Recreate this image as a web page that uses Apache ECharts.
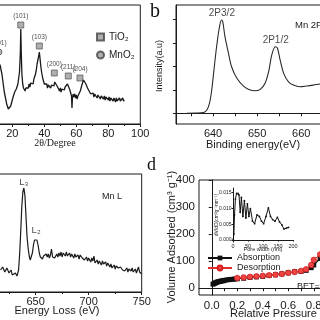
<!DOCTYPE html>
<html><head><meta charset="utf-8">
<script src="https://cdn.jsdelivr.net/npm/echarts@6/dist/echarts.min.js"></script>
<style>html,body{margin:0;padding:0;background:#fff}#c{width:320px;height:320px}</style>
</head><body><div id="c"></div>
<script>
// ---- panel a: XRD ----
const xrdData = [[10,66],[10.5,64],[11,68],[11.5,62],[12,61],[12.5,58],[13,54],[13.5,50],[14,44],[14.5,38],[15,32],[15.5,28],[16,24],[16.5,20],[17,18],[17.5,15],[18,17],[18.5,14],[19,18],[19.5,21],[20,24],[20.5,27],[21,29],[21.5,32],[22,30],[22.5,35],[23,36],[23.5,40],[24,42],[24.5,52],[25,70],[25.3,95],[25.6,72],[26,50],[26.5,40],[27,36],[27.5,38],[28,33],[28.5,36],[29,34],[29.5,38],[30,36],[30.5,40],[31,37],[31.5,41],[32,39],[32.5,42],[33,40],[33.5,45],[34,46],[34.5,50],[35,54],[35.5,60],[36,64],[36.5,68],[36.9,72],[37.3,66],[37.8,58],[38.3,52],[39,46],[39.5,43],[40,40],[40.5,42],[41,38],[41.5,40],[42,36],[42.5,39],[43,37],[43.5,40],[44,36],[44.5,39],[45,37],[45.5,41],[46,38],[46.5,42],[47,40],[47.5,44],[48,38],[48.5,36],[49,37],[49.5,33],[50,36],[50.5,32],[51,35],[51.5,33],[52,36],[52.5,34],[53,37],[53.5,35],[54,39],[54.5,40],[55,42],[55.5,38],[56,34],[56.5,31],[57,28],[57.3,16],[57.6,26],[58,30],[58.5,27],[59,30],[59.5,26],[60,29],[60.5,25],[61,28],[61.5,26],[62,30],[62.5,33],[63,36],[63.5,39],[64,41],[64.5,44],[65,42],[65.5,45],[66,40],[66.5,38],[67,36],[67.5,35],[68,33],[68.5,34],[69,30],[69.5,32],[70,29],[70.5,31],[71,27],[71.5,30],[72,28],[72.5,31],[73,26],[73.5,29],[74,27],[74.5,30],[75,25],[75.5,28],[76,26],[76.5,29],[77,25],[77.5,28],[78,24],[78.5,27],[79,25],[79.5,28],[80,24],[80.5,27],[81,23],[81.5,26],[82,24],[82.5,27],[83,23],[83.5,26],[84,24],[84.5,22],[85,26],[85.5,23],[86,25],[86.5,22],[87,26],[87.5,23],[88,25],[88.5,22],[89,26],[89.5,23],[90,24]];
const tio2Peaks = [[25.3,99,'(101)'],[36.9,78,'(103)'],[46.25,51,'(200)'],[55,48,'(211)'],[62.3,46,'(204)']];
const mno2Peaks = [[11.7,72,'(001)']];
const xrdTicks = [20,40,60,80,100];

// ---- panel b: XPS Mn 2p ----
const xpsData = [[634,0.0],[636,0.01],[637.8,0.03],[638.6,0.14],[639.2,0.43],[639.7,0.99],[640.2,1.84],[640.8,2.83],[641.4,3.62],[641.9,3.97],[642.2,3.9],[642.7,3.26],[643.5,2.55],[644.2,1.98],[645.4,1.49],[646.9,1.16],[648.4,0.99],[649.5,0.96],[650.7,1.02],[651.8,1.28],[652.6,1.77],[653.3,2.48],[654.1,2.83],[654.6,2.77],[655.2,2.27],[656,1.7],[657.1,1.34],[658.2,1.2],[659.7,1.13],[661.2,1.16],[662.7,1.2],[664.2,1.25],[666,1.3]];
const xpsPeakLabels = [[642,4.27,'2P3/2'],[654.2,3.12,'2P1/2']];
const xpsTicks = [640,650,660];
const xpsMinorTicks = [635,640,645,650,655,660,665];

// ---- panel c: EELS Mn L ----
const eelsData = [[617,22],[619,25],[621,20],[623,24],[625,19],[627,22],[628,17],[629.5,15],[631,19],[632.5,16],[634,22],[635,38],[636,60],[637,85],[638,100],[639,104],[640,96],[641,75],[642,55],[643,44],[644,36],[645,32],[646,34],[647,39],[648,47],[649,52],[650.3,54],[651.3,52],[652.5,46],[653.5,39],[654.5,35],[655.5,37],[656.5,33],[657.5,36],[658.5,34],[660,38],[661,35],[662,38],[663,34],[664,37],[665,43],[666,35],[667,37],[668,34],[670,38],[671,35],[672,39],[673,36],[674,40],[675,35],[676,39],[677,41],[678,36],[679,40],[680,36],[682,39],[683,35],[684,38],[686,34],[687,38],[688,35],[690,37],[691,33],[692,37],[694,34],[695,36],[696,32],[698,35],[699,31],[700,34],[702,30],[703,34],[704,31],[705,36],[706,29],[708,32],[709,28],[710,31],[712,27],[713,31],[714,28],[716,30],[717,26],[718,29],[720,25],[721,28],[722,24],[724,27],[725,23],[726,26],[728,24],[729,22],[730,25],[732,22],[733,24],[734,21],[736,24],[737,20],[738,23],[740,21],[741,24],[742,20],[744,23],[745,19],[746,22],[747,25],[748,20],[749,22],[750,18]];
const eelsPeakLabels = [[639,110,'L₃'],[650.5,62,'L₂']];
const eelsTicks = [650,700,750];

// ---- panel d: N2 isotherm ----
const absorptionP = [0.01,0.02,0.03,0.04,0.05,0.06,0.07,0.08,0.09,0.10,0.12,0.14,0.16,0.18,0.20,0.25,0.30,0.35,0.40,0.45,0.50,0.55,0.60,0.65,0.70,0.74,0.78,0.80,0.85,0.90];
const absorptionV = [15,18,20,22,24,25,26,27,28,29,31,32,33,34,35,37,40,42,44,47,50,53,57,61,62,66,76,86,110,150];
const desorptionP = [0.20,0.25,0.30,0.35,0.40,0.45,0.50,0.55,0.60,0.65,0.70,0.74,0.78,0.80,0.85,0.90];
const desorptionV = [38,40,42,44,46,48,50,53,57,60,64,70,86,105,125,160];
const isoXTicks = [0,0.2,0.4,0.6,0.8,1.0];
const isoYTicks = [0,100,200,300,400];
// inset: pore size distribution
const poreWidth = [1,3,5,8,12,17,20,24,28,33,38,43,48,53,58,65,72,80,88,95,102,110,118,125,132,140,148,155,163,170,178,185];
const poreDV = [0.0003,0.002,0.008,0.013,0.0148,0.0148,0.0143,0.0088,0.0135,0.0075,0.0125,0.0070,0.0115,0.0075,0.0100,0.0060,0.0052,0.0080,0.0075,0.0060,0.0052,0.0075,0.0102,0.0075,0.0065,0.0060,0.0072,0.0058,0.0048,0.0035,0.0038,0.0040];
const poreYTicks = [0,0.005,0.010,0.015];

const SANS = "'Liberation Sans', Arial, sans-serif";
const SERIF = "'Liberation Serif', 'Times New Roman', serif";
const INK = '#1a1a1a';

const zip = (a,b) => a.map((v,i)=>[v,b[i]]);

const chart = echarts.init(document.getElementById('c'), null, {renderer:'canvas', width:320, height:320});

const lbl = (o) => Object.assign({fontFamily:SANS, color:INK, fontSize:11, margin:4}, o||{});
const tick = (o) => Object.assign({show:true, length:3, inside:false, lineStyle:{color:INK, width:1}}, o||{});
const line = {show:true, lineStyle:{color:INK, width:1}};

const option = {
  animation:false,
  backgroundColor:'#fff',
  grid:[
    {left:-19.7, top:5, width:160, height:119, show:true, borderColor:INK, borderWidth:1, outerBoundsMode:'none'},
    {left:176, top:5, width:169.4, height:119, show:true, borderColor:INK, borderWidth:1, outerBoundsMode:'none'},
    {left:-17.5, top:174, width:159.2, height:118, show:true, borderColor:INK, borderWidth:1, outerBoundsMode:'none'},
    {left:199, top:180, width:140.25, height:115, show:true, borderColor:INK, borderWidth:1, outerBoundsMode:'none'},
    {left:233, top:188, width:60, height:54, show:false, outerBoundsMode:'none'}
  ],
  xAxis:[
    {gridIndex:0, type:'value', min:0, max:100, interval:20, axisLine:line, axisTick:tick(),
      minorTick:{show:true, splitNumber:2, length:2, lineStyle:{color:INK}}, splitLine:{show:false},
      axisLabel:lbl({customValues:xrdTicks})},
    {gridIndex:1, type:'value', min:631.6, max:670, axisLine:line, splitLine:{show:false},
      axisTick:tick({customValues:xpsMinorTicks}), axisLabel:lbl({customValues:xpsTicks})},
    {gridIndex:2, type:'value', min:600, max:750, interval:50, axisLine:line, axisTick:tick(),
      minorTick:{show:true, splitNumber:2, length:2, lineStyle:{color:INK}}, splitLine:{show:false},
      axisLabel:lbl({customValues:eelsTicks})},
    {gridIndex:3, type:'value', min:-0.1, max:1.0, axisLine:line, splitLine:{show:false},
      axisTick:tick({customValues:[0,0.1,0.2,0.3,0.4,0.5,0.6,0.7,0.8,0.9,1.0]}),
      axisLabel:lbl({customValues:isoXTicks, formatter:v=>v.toFixed(1), fontSize:11.5, margin:5})},
    {gridIndex:4, type:'value', min:0, max:200, interval:50, axisLine:line, splitLine:{show:false},
      axisTick:tick({length:1.5}), axisLabel:lbl({fontSize:5.5, margin:1.5})}
  ],
  yAxis:[
    {gridIndex:0, type:'value', min:0, max:119, show:false},
    {gridIndex:1, type:'value', min:-0.455, max:4.609, axisLine:line, splitLine:{show:false},
      axisTick:tick({customValues:[0,1,2,3,4]}), axisLabel:{show:false}},
    {gridIndex:2, type:'value', min:0, max:118, show:false},
    {gridIndex:3, type:'value', min:-25, max:400, axisLine:line, splitLine:{show:false},
      axisTick:tick({customValues:isoYTicks}), axisLabel:lbl({customValues:isoYTicks, fontSize:11.5})},
    {gridIndex:4, type:'value', min:-0.0006, max:0.0165, axisLine:line, splitLine:{show:false},
      axisTick:tick({length:1.5, customValues:poreYTicks}),
      axisLabel:lbl({customValues:poreYTicks, formatter:v=>v.toFixed(3), fontSize:5, margin:1.5})}
  ],
  legend:[
    {data:['TiO₂','MnO₂'], orient:'vertical', left:91, top:26, itemWidth:7, itemHeight:7, itemGap:6,
      textStyle:{fontFamily:SANS, fontSize:10, color:INK, lineHeight:12}},
    {data:['Absorption','Desorption'], orient:'vertical', left:202, top:248, itemWidth:24, itemHeight:6, itemGap:0,
      textStyle:{fontFamily:SANS, fontSize:9, color:INK, lineHeight:10}}
  ],
  series:[
    {type:'line', xAxisIndex:0, yAxisIndex:0, data:xrdData, showSymbol:false, lineStyle:{color:INK, width:1.3}, silent:true},
    {name:'TiO₂', type:'scatter', xAxisIndex:0, yAxisIndex:0, data:tio2Peaks, symbol:'rect', symbolSize:6,
      itemStyle:{color:'#9b9b9b', borderColor:'#444', borderWidth:0.8},
      label:{show:true, position:'top', distance:1.5, formatter:p=>p.value[2], fontSize:6.5, fontFamily:SANS, color:INK}},
    {name:'MnO₂', type:'scatter', xAxisIndex:0, yAxisIndex:0, data:mno2Peaks, symbol:'circle', symbolSize:6,
      itemStyle:{color:'#9b9b9b', borderColor:'#444', borderWidth:0.8},
      label:{show:true, position:'top', distance:1.5, formatter:p=>p.value[2], fontSize:6.5, fontFamily:SANS, color:INK}},
    {type:'line', xAxisIndex:1, yAxisIndex:1, data:xpsData, showSymbol:false, smooth:0.3, lineStyle:{color:'#2a2a2a', width:1.1}},
    {type:'scatter', xAxisIndex:1, yAxisIndex:1, data:xpsPeakLabels, symbolSize:0,
      label:{show:true, position:'inside', formatter:p=>p.value[2], fontSize:10, fontFamily:SANS, color:INK}},
    {type:'line', xAxisIndex:2, yAxisIndex:2, data:eelsData, showSymbol:false, lineStyle:{color:INK, width:1.2}},
    {type:'scatter', xAxisIndex:2, yAxisIndex:2, data:eelsPeakLabels, symbolSize:0,
      label:{show:true, position:'inside', formatter:p=>p.value[2], fontSize:9.5, fontFamily:SANS, color:INK}},
    {name:'Absorption', type:'line', xAxisIndex:3, yAxisIndex:3, data:zip(absorptionP,absorptionV), symbol:'rect', symbolSize:5,
      itemStyle:{color:'#111'}, lineStyle:{color:'#111', width:1.2}},
    {name:'Desorption', type:'line', xAxisIndex:3, yAxisIndex:3, data:zip(desorptionP,desorptionV), symbol:'circle', symbolSize:5.5,
      itemStyle:{color:'#ee4444', borderColor:'#d42020', borderWidth:0.8}, lineStyle:{color:'#e03030', width:1}},
    {type:'line', xAxisIndex:4, yAxisIndex:4, data:zip(poreWidth,poreDV), symbol:'circle', symbolSize:1.8, showSymbol:true,
      itemStyle:{color:'#111'}, lineStyle:{color:'#111', width:1}}
  ],
  graphic:[
    {type:'text', x:55, y:143, style:{text:'2θ/Degree', font:"10px "+SERIF, fill:INK, align:'center', verticalAlign:'middle'}},
    {type:'text', x:150, y:2, style:{text:'b', font:"20px "+SERIF, fill:'#111', align:'left', verticalAlign:'top'}},
    {type:'text', x:295, y:25, style:{text:'Mn 2P', font:"9.5px "+SANS, fill:INK, align:'left', verticalAlign:'middle'}},
    {type:'text', x:160, y:66, rotation:Math.PI/2, style:{text:'Intensity(a.u)', font:"9px "+SANS, fill:INK, align:'center', verticalAlign:'middle'}},
    {type:'text', x:253, y:145, style:{text:'Binding energy(eV)', font:"11px "+SANS, fill:INK, align:'center', verticalAlign:'middle'}},
    {type:'text', x:112, y:197, style:{text:'Mn L', font:"9px "+SANS, fill:INK, align:'center', verticalAlign:'middle'}},
    {type:'text', x:57, y:311, style:{text:'Energy Loss (eV)', font:"11px "+SANS, fill:INK, align:'center', verticalAlign:'middle'}},
    {type:'text', x:147, y:156, style:{text:'d', font:"18px "+SERIF, fill:'#111', align:'left', verticalAlign:'top'}},
    {type:'text', x:172, y:237, rotation:Math.PI/2, style:{text:'Volume Adsorbed (cm³ g⁻¹)', font:"11px "+SANS, fill:INK, align:'center', verticalAlign:'middle'}},
    {type:'text', x:230, y:314, style:{text:'Relative Pressure (p/p₀)', font:"11px "+SANS, fill:INK, align:'left', verticalAlign:'middle'}},
    {type:'text', x:297, y:287, style:{text:'BET=135 m²/g', font:"9px "+SANS, fill:INK, align:'left', verticalAlign:'middle'}},
    {type:'text', x:217, y:215, rotation:Math.PI/2, style:{text:'dV/dD(cm³g⁻¹nm⁻¹)', font:"5px "+SANS, fill:INK, align:'center', verticalAlign:'middle'}},
    {type:'text', x:263, y:249, style:{text:'Pore width (nm)', font:"5.5px "+SANS, fill:INK, align:'center', verticalAlign:'middle'}}
  ]
};
chart.setOption(option);
</script>
</body></html>
